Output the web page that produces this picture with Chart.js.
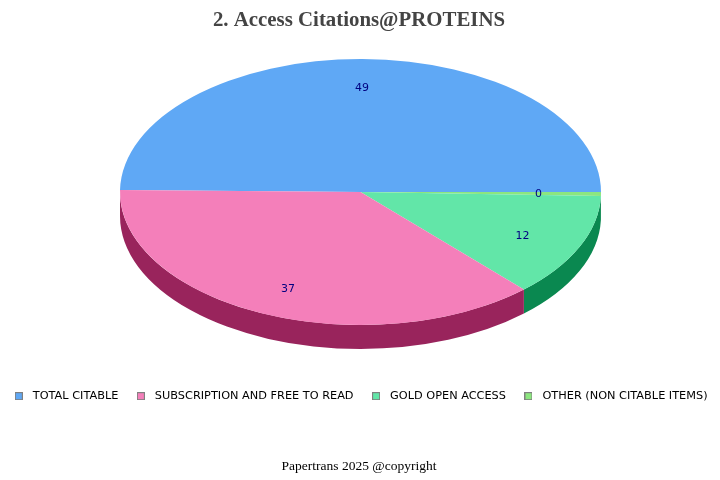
<!DOCTYPE html>
<html>
<head>
<meta charset="utf-8">
<style>html,body{margin:0;padding:0;background:#fff;width:720px;height:480px;overflow:hidden}canvas{display:block;margin-left:-20px}</style>
<script src="https://cdn.jsdelivr.net/npm/chart.js@4"></script>
</head>
<body>
<canvas id="c" width="758" height="480"></canvas>
<script>
const titleText = "2. Access Citations@PROTEINS";
const footerText = "Papertrans 2025 @copyright";
const categories = ["TOTAL CITABLE", "SUBSCRIPTION AND FREE TO READ", "GOLD OPEN ACCESS", "OTHER (NON CITABLE ITEMS)"];
const values = [49, 36.55, 12.45, 0.45];
const topColors = ["#5FA8F5", "#F47FBA", "#62E6A8", "#8CE67F"];
const sideColors = ["#2A6FB5", "#99245C", "#0A8850", "#0A8850"];
const labelColor = "#000080";
const sliceOrder = [0, 3, 2, 1];

const ellipse = {cx: 380.5, cy: 192, rx: 240.5, ry: 133, depth: 24, labelX: 0.74, labelY: 0.79, labelDy: 1};

function marker(color) {
  const m = document.createElement("canvas");
  m.width = 8; m.height = 8;
  const g = m.getContext("2d");
  g.fillStyle = color;
  g.fillRect(0, 0, 8, 8);
  g.strokeStyle = "#808080";
  g.lineWidth = 1;
  g.strokeRect(0.5, 0.5, 7, 7);
  return m;
}

const pie3d = {
  id: "pie3d",
  beforeDatasetsDraw(chart) {
    const ctx = chart.ctx, arcs = chart.getDatasetMeta(0).data, e = ellipse;
    arcs.forEach((a, i) => {
      const a0 = Math.max(a.startAngle, 0), a1 = Math.min(a.endAngle, Math.PI);
      if (a1 <= a0) return;
      ctx.beginPath();
      ctx.ellipse(e.cx, e.cy, e.rx, e.ry, 0, a0, a1, false);
      ctx.ellipse(e.cx, e.cy + e.depth, e.rx, e.ry, 0, a1, a0, true);
      ctx.closePath();
      ctx.fillStyle = sideColors[sliceOrder[i]];
      ctx.fill();
    });
    const r = arcs[0];
    ctx.save();
    ctx.translate(e.cx, e.cy);
    ctx.scale(e.rx / r.outerRadius, e.ry / r.outerRadius);
    ctx.translate(-r.x, -r.y);
  },
  afterDatasetsDraw(chart) {
    const ctx = chart.ctx, arcs = chart.getDatasetMeta(0).data, e = ellipse;
    ctx.restore();
    ctx.save();
    ctx.font = '11px "DejaVu Sans"';
    ctx.fillStyle = labelColor;
    ctx.textAlign = "center";
    ctx.textBaseline = "middle";
    arcs.forEach((a, i) => {
      const m = (a.startAngle + a.endAngle) / 2;
      ctx.fillText(String(Math.round(values[sliceOrder[i]])),
        e.cx + Math.cos(m) * e.rx * e.labelX,
        e.cy + Math.sin(m) * e.ry * e.labelY + e.labelDy);
    });
    ctx.restore();
  }
};

new Chart(document.getElementById("c"), {
  type: "pie",
  data: {
    labels: sliceOrder.map(i => categories[i]),
    datasets: [{
      data: sliceOrder.map(i => values[i]),
      backgroundColor: sliceOrder.map(i => topColors[i]),
      borderWidth: 0
    }]
  },
  options: {
    responsive: false,
    animation: false,
    rotation: -89.14,
    layout: {padding: 0},
    events: [],
    plugins: {
      tooltip: {enabled: false},
      title: {
        display: true, text: titleText, color: "#444444",
        font: {family: '"Liberation Serif"', size: 20.85, weight: "bold"},
        padding: {top: 8, bottom: 10}
      },
      subtitle: {
        display: true, text: footerText, position: "bottom", color: "#000000",
        font: {family: '"Liberation Serif"', size: 13.5, weight: "normal"},
        padding: {top: 47, bottom: 5}
      },
      legend: {
        position: "bottom",
        labels: {
          usePointStyle: true,
          pointStyleWidth: 16.7,
          padding: 14.15,
          color: "#000000",
          font: {family: '"DejaVu Sans"', size: 11.3},
          generateLabels: () => categories.map((t, i) => ({
            text: t, pointStyle: marker(topColors[i]), fillStyle: topColors[i],
            strokeStyle: "#808080", lineWidth: 1, hidden: false, index: i
          }))
        }
      }
    }
  },
  plugins: [pie3d]
});
</script>
</body>
</html>
